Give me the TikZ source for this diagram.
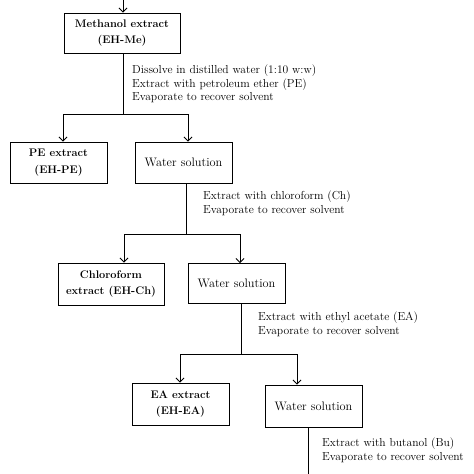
\documentclass[tikz,border=0pt]{standalone}
\usetikzlibrary{arrows.meta}
\begin{document}
\begin{tikzpicture}[x=1pt,y=-1pt,
  box/.style={draw,line width=0.9pt,align=center,inner sep=0pt,font=\fontsize{11}{16.5}\selectfont\bfseries},
  wbox/.style={draw,line width=0.9pt,align=center,inner sep=0pt,font=\fontsize{12.3}{16}\selectfont},
  lbl/.style={anchor=west,align=left,inner sep=0pt,font=\fontsize{11.6}{13.6}\selectfont},
  conn/.style={line width=0.9pt},
  arr/.style={line width=0.9pt,-{Straight Barb[length=4pt,width=8pt]}}]
\useasboundingbox (0,0) rectangle (474,474);
% boxes
\node[box,minimum width=116pt,minimum height=40pt] (me) at (122,33) {Methanol extract\\(EH-Me)};
\node[box,minimum width=97pt,minimum height=41pt] (pe) at (58.5,162.5) {PE extract\\(EH-PE)};
\node[wbox,minimum width=97pt,minimum height=41pt] (w1) at (183.5,162.5) {Water solution};
\node[box,minimum width=106pt,minimum height=42pt] (ch) at (111,284) {Chloroform\\extract (EH-Ch)};
\node[wbox,minimum width=97pt,minimum height=40pt] (w2) at (236.5,283.5) {Water solution};
\node[box,minimum width=97pt,minimum height=42pt] (ea) at (180.5,404) {EA extract\\(EH-EA)};
\node[wbox,minimum width=97pt,minimum height=42pt] (w3) at (313.5,406) {Water solution};
% coordinates
\coordinate (top) at (123,0);
\coordinate (j1) at (123,114);
\coordinate (j1l) at (63,114);
\coordinate (j1r) at (188,114);
\coordinate (j2) at (186,234);
\coordinate (j2l) at (124,234);
\coordinate (j2r) at (240,234);
\coordinate (j3) at (241,354);
\coordinate (j3l) at (180,354);
\coordinate (j3r) at (297,354);
\coordinate (bot) at (308,474);
% connectors
\draw[arr] (top) -- (top|-me.north);
\draw[conn] (j1|-me.south) -- (j1);
\draw[conn] (j1l) -- (j1r);
\draw[arr] (j1l) -- (j1l|-pe.north);
\draw[arr] (j1r) -- (j1r|-w1.north);
\draw[conn] (j2|-w1.south) -- (j2);
\draw[conn] (j2l) -- (j2r);
\draw[arr] (j2l) -- (j2l|-ch.north);
\draw[arr] (j2r) -- (j2r|-w2.north);
\draw[conn] (j3|-w2.south) -- (j3);
\draw[conn] (j3l) -- (j3r);
\draw[arr] (j3l) -- (j3l|-ea.north);
\draw[arr] (j3r) -- (j3r|-w3.north);
\draw[conn] (bot|-w3.south) -- (bot);
% labels
\node[lbl] (l1) at (132,84) {Dissolve in distilled water (1:10 w:w)\\Extract with petroleum ether (PE)\\Evaporate to recover solvent};
\node[lbl] (l2) at (203,203.5) {Extract with chloroform (Ch)\\Evaporate to recover solvent};
\node[lbl] (l3) at (258,324.5) {Extract with ethyl acetate (EA)\\Evaporate to recover solvent};
\node[lbl] (l4) at (322,450.5) {Extract with butanol (Bu)\\Evaporate to recover solvent};
\end{tikzpicture}
\end{document}
